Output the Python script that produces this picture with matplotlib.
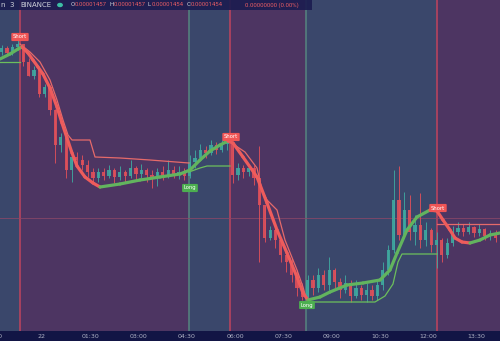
import matplotlib
matplotlib.use("Agg")
import matplotlib.pyplot as plt
from matplotlib.collections import LineCollection
from matplotlib.patches import Rectangle
import numpy as np

# 10 minute candles, hours counted from 00:00 on the 22nd
first_hour = -1.25
first_open = 279
close = [283, 278, 284, 287, 269, 255, 261, 237, 244, 221,
         186, 194, 161, 174, 171, 166, 159, 153, 159, 155,
         161, 154, 159, 155, 163, 157, 161, 156, 153, 159,
         155, 161, 157, 159, 155, 169, 173, 181, 178, 186,
         181, 187, 189, 156, 163, 159, 163, 153, 126, 93,
         101, 91, 76, 69, 56, 43, 34, 51, 43, 56,
         46, 61, 49, 41, 48, 35, 43, 36, 41, 35,
         46, 61, 81, 131, 96, 121, 99, 106, 91, 101,
         86, 91, 76, 88, 99, 103, 99, 104, 98, 102,
         95, 97, 93]
high = [286, 285, 287, 291, 287, 273, 265, 263, 247, 246,
        222, 198, 196, 181, 179, 176, 171, 163, 163, 163,
        166, 163, 165, 161, 171, 165, 167, 163, 161, 163,
        165, 171, 165, 165, 163, 176, 181, 187, 185, 191,
        189, 191, 193, 189, 168, 166, 167, 166, 185, 126,
        105, 103, 93, 81, 73, 61, 48, 56, 56, 63,
        61, 74, 63, 53, 56, 51, 51, 46, 48, 46,
        51, 69, 86, 161, 165, 139, 136, 116, 138, 109,
        103, 99, 93, 93, 105, 109, 107, 109, 105, 107,
        103, 101, 101]
low = [276, 275, 276, 281, 265, 255, 252, 234, 234, 216,
       168, 179, 153, 149, 167, 161, 154, 148, 149, 151,
       153, 148, 151, 149, 153, 151, 153, 149, 143, 145,
       151, 153, 153, 152, 151, 153, 163, 171, 173, 176,
       177, 179, 181, 148, 151, 153, 155, 146, 69, 89,
       91, 83, 69, 59, 49, 35, 31, 31, 36, 39,
       41, 41, 41, 33, 38, 29, 33, 31, 29, 31,
       31, 41, 56, 78, 91, 93, 91, 86, 83, 85,
       79, 63, 69, 73, 85, 96, 95, 97, 94, 95,
       91, 91, 89]

# smoothed average (thick line)
ma_hours = [-1.304, -0.994, -0.745, -0.621, -0.435, -0.279, -0.124, 0.031, 0.248, 0.466,
            0.621, 0.776, 0.932, 1.087, 1.335, 1.584, 1.801, 2.422, 3.043, 3.664,
            4.285, 4.595, 4.906, 5.216, 5.527, 5.775, 5.931, 6.241, 6.676, 6.986,
            7.297, 7.607, 7.918, 8.104, 8.259, 8.632, 8.942, 9.470, 9.967, 10.495,
            10.805, 11.023, 11.333, 11.644, 12.047, 12.265, 12.451, 12.668, 12.824, 13.041,
            13.289, 13.600, 13.910, 14.221]
ma_values = [272, 277, 282, 284, 278, 271, 264, 257, 243, 224,
             208, 193, 178, 165, 154, 148, 144, 147, 151, 154,
             157, 161, 171, 180, 186, 190, 188, 174, 154, 128,
             101, 78, 54, 38, 31, 34, 39, 46, 48, 51,
             61, 78, 101, 114, 121, 120, 111, 101, 93, 89,
             88, 91, 96, 98]

# trailing stop pieces (thin line)
stop1_hours = [-1.304, -0.683]
stop1_values = [269, 269]
stop2_hours = [-0.683, -0.373, -0.062, 0.248, 0.466, 0.652, 0.807, 0.932, 1.490, 1.646, 2.422, 3.353, 4.564]
stop2_values = [287, 279, 269, 251, 231, 211, 196, 191, 191, 174, 173, 171, 168]
stop3_hours = [4.564, 4.906, 5.123, 5.838]
stop3_values = [159, 163, 165, 165]
stop4_hours = [5.838, 6.303, 6.676, 6.831, 6.986, 7.297, 7.545, 7.918, 8.104, 8.197]
stop4_values = [189, 179, 163, 141, 131, 121, 91, 61, 44, 33]
stop5_hours = [8.197, 10.339, 10.650, 10.898, 11.054, 11.178, 12.265]
stop5_values = [29, 29, 35, 47, 69, 77, 77]
stop6_hours = [12.265, 14.221]
stop6_values = [107, 107]

signal_hours = [-0.683, 4.564, 5.838, 8.197, 12.265]
signal_sides = ["short", "long", "short", "long", "short"]
label_hours = [-0.683, 4.595, 5.869, 8.228, 12.296]
label_values = [294, 143, 194, 26, 123]

tick_hours = [-1.5, 0, 1.5, 3, 4.5, 6, 7.5, 9, 10.5, 12, 13.5]
tick_labels = ["22:30", "22", "01:30", "03:00", "04:30", "06:00", "07:30", "09:00", "10:30", "12:00", "13:30"]

crosshair_value = 113

# colours
BLUE_BG = "#3a476b"
PURPLE_BG = "#4d3562"
NAVY = "#121545"
UP = "#3fa9a0"
DOWN = "#e0505a"
MA_RED = "#ee5c5c"
MA_GREEN = "#62b45e"
SHORT_LINE = "#c0445d"
LONG_LINE = "#56857f"

fig = plt.figure(figsize=(5, 3.41), dpi=100, facecolor=NAVY)
ax = fig.add_axes([0, 10 / 341, 1, 331 / 341])
x0, x1 = -1.304, 14.221
ax.set_xlim(x0, x1)
ax.set_ylim(0, 331)
ax.axis("off")

# background state regions
edges = [x0] + signal_hours + [x1]
states = ["long"] + signal_sides
for a, b, s in zip(edges[:-1], edges[1:], states):
    ax.axvspan(a, b, color=PURPLE_BG if s == "short" else BLUE_BG, lw=0, zorder=0)
for t, s in zip(signal_hours, signal_sides):
    ax.axvline(t, color=SHORT_LINE if s == "short" else LONG_LINE, lw=1.1, zorder=1)
ax.axhline(crosshair_value, color="#8b4868", lw=0.7, alpha=0.8, zorder=1)

# candles
close = np.array(close)
opens = np.concatenate([[first_open], close[:-1]])
hours = first_hour + np.arange(len(close)) / 6
colors = [UP if c >= o else DOWN for o, c in zip(opens, close)]
ax.vlines(hours, low, high, colors=colors, lw=0.7, alpha=0.9, zorder=2)
body = np.where(close == opens, 0.8, close - opens)
ax.bar(hours, body, bottom=opens, width=0.1, color=colors, alpha=0.9, lw=0, zorder=3)

# trailing stop
stops = [(stop1_hours, stop1_values, "long"), (stop2_hours, stop2_values, "short"),
         (stop3_hours, stop3_values, "long"), (stop4_hours, stop4_values, "short"),
         (stop5_hours, stop5_values, "long"), (stop6_hours, stop6_values, "short")]
for hs, vs, s in stops:
    ax.plot(hs, vs, color="#e66a6a" if s == "short" else "#6cbf5c", lw=0.9, zorder=4)

# average coloured by slope
pts = np.column_stack([ma_hours, ma_values])
segs = np.stack([pts[:-1], pts[1:]], axis=1)
ma_cols = [MA_RED if b < a else MA_GREEN for a, b in zip(ma_values[:-1], ma_values[1:])]
ax.add_collection(LineCollection(segs, colors=ma_cols, linewidths=2.3,
                                 capstyle="round", joinstyle="round", zorder=5))

# signal labels
for t, v, s in zip(label_hours, label_values, signal_sides):
    ax.text(t, v, "Short" if s == "short" else "Long", ha="center", va="center",
            fontsize=3.8, color="white", zorder=6,
            bbox=dict(boxstyle="round,pad=0.3,rounding_size=0.2",
                      fc="#f05555" if s == "short" else "#4caf50", ec="none"))

# time axis (first label is cut by the left edge, as on the screen)
for t, lab in zip(tick_hours, tick_labels):
    ax.text(t, -5.5 / 331, lab, transform=ax.get_xaxis_transform(), ha="center",
            va="center", fontsize=4.5, color="#aeb1c4", clip_on=False)

# legend strip at the top
fig.add_artist(Rectangle((0, 1 - 10 / 341), 312 / 500, 10 / 341,
                         transform=fig.transFigure, color="#1c1d50", alpha=0.92, lw=0))
ty = 1 - 5 / 341
fig.text(0 / 500, ty, "n", fontsize=5, color="#d1d4dc", va="center")
fig.text(9 / 500, ty, "3", fontsize=5, color="#d1d4dc", va="center")
fig.text(20 / 500, ty, "BINANCE", fontsize=5, color="#d1d4dc", va="center")
fig.add_artist(plt.Circle((60 / 500, ty), 2.2 / 500, transform=fig.transFigure,
                          color="#3dbfa5"))
legend_letters = ["O", "H", "L", "C"]
legend_values = ["0.00001457", "0.00001457", "0.00001454", "0.00001454"]
for k, (letter, val) in enumerate(zip(legend_letters, legend_values)):
    x = 71 + 38.5 * k
    fig.text(x / 500, ty, letter, fontsize=4.3, family="Roboto", color="#d1d4dc", va="center")
    fig.text((x + 4) / 500, ty, val, fontsize=4.3, family="Roboto", color="#e65c64", va="center")
fig.text(245 / 500, ty, "0.00000000 (0.00%)", fontsize=4.3, family="Roboto",
         color="#e65c64", va="center")

plt.savefig("out.png", dpi=100, facecolor=NAVY)
plt.close()
